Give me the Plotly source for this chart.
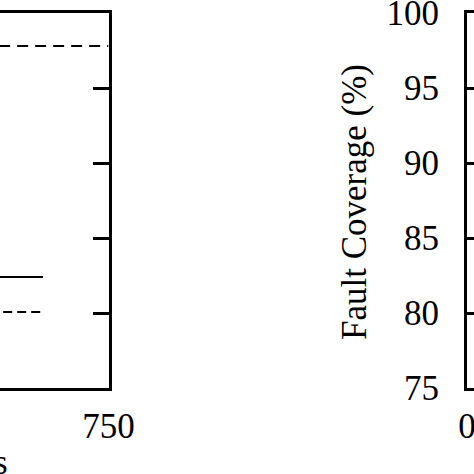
import plotly.graph_objects as go

# ---- data read from the visible (cropped) reference ----
left_x = [500, 750]            # number of vectors (visible part of left panel)
left_dashed = [97.8, 97.8]     # dashed series, fault coverage (%)
y_ticks = [75, 80, 85, 90, 95, 100]
left_x_ticks = [0, 250, 500, 750]
right_x_ticks = [0, 250, 500, 750]
y_title = "Fault Coverage (%)"
x_title = "Number of Vectors"

W = H = 474
FONT = "Liberation Serif, Times New Roman, serif"
FS = 35

def px(x):
    return x / W

def py(y):
    return 1 - y / H

fig = go.Figure()
fig.add_trace(go.Scatter(x=left_x, y=left_dashed, mode="lines",
                         line=dict(color="black", width=2, dash="11px,7px"),
                         xaxis="x", yaxis="y", showlegend=False))
# invisible trace so the right axes exist
fig.add_trace(go.Scatter(x=[0], y=[75], mode="markers", marker=dict(opacity=0),
                         xaxis="x2", yaxis="y2", showlegend=False, hoverinfo="skip"))

axis_common = dict(showgrid=False, zeroline=False, linecolor="black", linewidth=3,
                   tickcolor="black", tickwidth=3, ticklen=16, automargin=False,
                   ticklabeloverflow="allow",
                   tickfont=dict(family=FONT, size=FS, color="black"))

y_dom = [py(388), py(13)]

fig.update_layout(
    template="none",
    width=W, height=H, margin=dict(l=0, r=0, t=0, b=0, autoexpand=False),
    paper_bgcolor="white", plot_bgcolor="white", showlegend=False,
    xaxis=dict(domain=[0, px(108.5)], range=[537, 750], tickvals=left_x_ticks,
               ticks="", showline=True, mirror=True, anchor="y",
               ticklabelstandoff=5, **axis_common),
    yaxis=dict(domain=y_dom, range=[75, 100], tickvals=y_ticks, side="right",
               ticks="inside", showticklabels=False, showline=True, anchor="x",
               **axis_common),
    xaxis2=dict(domain=[px(467), 1], range=[0, 13.8], tickvals=right_x_ticks,
                ticks="", showline=True, mirror=True, anchor="y2",
                ticklabelstandoff=5, **axis_common),
    yaxis2=dict(domain=y_dom, range=[75, 100], tickvals=y_ticks, side="left",
                ticks="inside", showline=True, anchor="x2",
                ticklabelstandoff=18, **axis_common),
)

# y axis title of right panel
fig.add_annotation(text=y_title, xref="paper", yref="paper", x=px(354), y=py(202),
                   textangle=-90, showarrow=False, xanchor="center", yanchor="middle",
                   font=dict(family=FONT, size=FS, color="black"))
# x axis title of left panel (mostly outside the crop)
fig.add_annotation(text=x_title, xref="paper", yref="paper", x=px(10), y=py(462),
                   showarrow=False, xanchor="right", yanchor="middle",
                   font=dict(family=FONT, size=FS, color="black"))

# legend samples of left panel (key text lies outside the crop)
fig.add_shape(type="line", xref="paper", yref="paper", x0=-0.2, x1=px(43),
              y0=py(277), y1=py(277), line=dict(color="black", width=2))
fig.add_shape(type="line", xref="paper", yref="paper", x0=-0.2, x1=px(45),
              y0=py(312), y1=py(312), line=dict(color="black", width=2, dash="9px,5px"))

fig.write_html("out.html", config={"displayModeBar": False},
               post_script="document.body.style.margin='0';document.body.style.padding='0';document.body.style.overflow='hidden';")
